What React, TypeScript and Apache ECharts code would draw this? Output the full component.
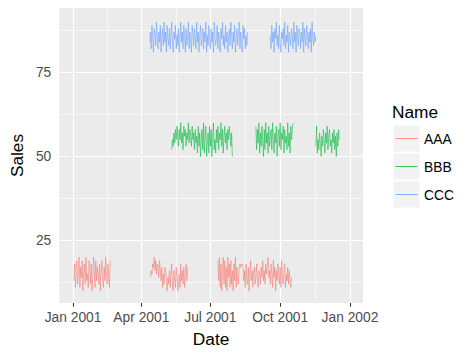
import React, { useEffect, useRef } from "react";
import * as echarts from "echarts";

// x values are days since 1 Jan 2001
const tickDays = [0, 90, 181, 273, 365];
const tickLabels = ["Jan 2001", "Apr 2001", "Jul 2001", "Oct 2001", "Jan 2002"];
const minorDays = [45, 135.5, 227, 319];
const yMajor = [25, 50, 75];
const yMinor = [12.5, 37.5, 62.5, 87.5];

const names = ["AAA", "BBB", "CCC"];
const colors = ["#F8766D", "#00BA38", "#619CFF"];

const aaaStarts = [1, 102, 191];
const aaa1 = [13, 18, 11, 16, 19, 12, 15, 20, 11, 17, 14, 19, 10, 16, 18, 12, 20, 13, 15, 11, 19, 17, 12, 18, 10, 14, 20, 16, 11, 19, 13, 17, 15, 12, 18, 10, 16, 19, 14, 11, 17, 13, 20, 15, 12, 18, 14, 11, 19];
const aaa2 = [14, 16, 15, 18, 17, 20, 16, 19, 15, 18, 17, 14, 19, 16, 13, 17, 11, 15, 12, 17, 16, 13, 10, 14, 12, 16, 11, 15, 18, 12, 10, 16, 13, 11, 17, 14, 10, 12, 15, 11, 18, 13, 16, 12, 17, 11, 15, 18, 13, 17];
const aaa3 = [19, 13, 20, 11, 18, 10, 16, 20, 12, 19, 11, 17, 10, 20, 14, 18, 11, 19, 12, 16, 10, 18, 13, 20, 11, 17, 14, 12,
  17, 18, 17, 18, 18, 17,
  13, 16, 11, 18, 14, 12, 17, 10, 15, 19, 13, 16, 11, 15, 17, 12, 14, 18, 13, 11, 16, 15, 12, 17, 14, 19, 13, 16, 12, 18,
  15, 17, 20, 14, 16, 12, 18, 15, 11, 19, 14, 17, 10, 16, 13, 18, 15, 12, 17, 11, 19, 14, 12, 16, 18, 11, 15, 13, 17, 12, 16, 13, 11, 14];

const bbbStarts = [130, 241, 320];
const bbb1 = [52, 55, 53, 57, 54, 58, 55, 59, 56, 53, 58, 55, 60, 54, 57, 52, 59, 56, 58, 53, 57, 55, 60, 54, 58, 56, 53, 59, 55, 57,
  52, 58, 54, 56, 51, 59, 53, 57, 50, 55, 58, 52, 60, 51, 56, 59, 50, 54, 57, 51, 59, 53, 58, 50, 56, 60, 52, 55, 51, 58,
  54, 59, 52, 57, 55, 60, 53, 58, 51, 56, 59, 54, 57, 52, 58, 55, 59, 56, 53, 57, 50];
const bbb2 = [59, 52, 58, 54, 60, 51, 57, 53, 59, 55, 50, 58, 52, 60, 54, 57, 51, 59, 53, 56, 58, 52, 60, 55, 51, 57, 54, 59, 50, 56, 58, 53, 60, 52, 57, 55, 59, 51, 58, 54, 56, 52, 60, 53, 57, 51, 59, 55, 58, 60];
const bbb3 = [53, 59, 51, 55, 52, 57, 54, 50, 56, 53, 58, 55, 51, 57, 54, 59, 52, 56, 58, 53, 55, 51, 57, 54, 58, 52, 56, 50, 57, 53, 58, 55];

const cccStarts = [101, 260];
const ccc1 = [84, 87, 82, 89, 85, 81, 88, 86, 83, 90, 85, 82, 87, 84, 89, 81, 86, 88, 83, 90,
  84, 87, 81, 89, 85, 83, 88, 82, 86, 90, 84, 81, 87, 85, 89, 82, 86, 83, 88, 81,
  85, 90, 84, 87, 82, 89, 86, 81, 88, 83, 85, 90, 82, 87, 84, 81, 89, 86, 83, 88,
  85, 82, 90, 84, 87, 81, 86, 89, 83, 85, 88, 82, 87, 84, 90, 81, 86, 83, 89, 85,
  82, 88, 84, 87, 81, 90, 86, 83, 85, 89, 82, 87, 84, 81, 88, 85, 90, 83, 86, 82,
  89, 84, 87, 81, 85, 88, 83, 90, 86, 82, 87, 84, 89, 81, 85, 88, 83, 86, 90, 82,
  87, 84, 81, 89, 85, 88, 82, 86, 83, 87];
const ccc2 = [86, 82, 89, 84, 87, 81, 88, 85, 90, 83, 86, 82, 89, 84, 81, 87, 85, 88, 83, 90,
  82, 86, 84, 89, 81, 87, 85, 83, 88, 86, 82, 90, 84, 87, 81, 89, 85, 83, 88, 86,
  82, 87, 84, 90, 81, 88, 85, 83, 89, 86, 82, 87, 84, 88, 81, 90, 85, 83, 87, 84, 86];

const FONT = "'Liberation Sans', Arial, Helvetica, sans-serif";

export default function App() {
  const ref = useRef<HTMLDivElement>(null);
  useEffect(() => {
    if (!ref.current) return;
    const chart = echarts.init(ref.current, undefined, { renderer: "svg" });

    const groups = [
      { name: names[0], color: colors[0], starts: aaaStarts, segs: [aaa1, aaa2, aaa3] },
      { name: names[1], color: colors[1], starts: bbbStarts, segs: [bbb1, bbb2, bbb3] },
      { name: names[2], color: colors[2], starts: cccStarts, segs: [ccc1, ccc2] },
    ];
    const series: any[] = [];
    groups.forEach((g) => {
      g.segs.forEach((seg, si) => {
        series.push({
          type: "line",
          name: g.name,
          z: 10,
          showSymbol: false,
          symbol: "none",
          silent: true,
          lineStyle: { color: g.color, width: 0.55 },
          itemStyle: { color: g.color },
          data: seg.map((v, i) => [g.starts[si] + i, v]),
        });
      });
    });

    const gridLines: any[] = [];
    minorDays.forEach((d) => gridLines.push({ xAxis: d, lineStyle: { color: "#FFFFFF", width: 0.6, type: "solid" } }));
    tickDays.forEach((d) => gridLines.push({ xAxis: d, lineStyle: { color: "#FFFFFF", width: 1.2, type: "solid" } }));
    yMinor.forEach((v) => gridLines.push({ yAxis: v, lineStyle: { color: "#FFFFFF", width: 0.6, type: "solid" } }));
    yMajor.forEach((v) => gridLines.push({ yAxis: v, lineStyle: { color: "#FFFFFF", width: 1.2, type: "solid" } }));

    series.unshift({
      type: "line",
      name: "grid",
      z: 1,
      silent: true,
      data: [],
      markLine: {
        silent: true,
        symbol: ["none", "none"],
        label: { show: false },
        z: 1,
        animation: false,
        data: gridLines,
      },
    });

    const legendItems: any[] = [];
    legendItems.push({
      type: "text",
      x: 392,
      y: 112,
      style: { text: "Name", font: `17.3px ${FONT}`, fill: "#000000", textAlign: "left", textVerticalAlign: "middle" },
    });
    names.forEach((n, i) => {
      const top = 125 + i * 28;
      legendItems.push({ type: "rect", shape: { x: 393, y: top, width: 27, height: 27 }, style: { fill: "#F2F2F2", stroke: "#FFFFFF", lineWidth: 1 } });
      legendItems.push({ type: "line", shape: { x1: 395.5, y1: top + 13.5, x2: 417.5, y2: top + 13.5 }, style: { stroke: colors[i], lineWidth: 0.8 } });
      legendItems.push({
        type: "text",
        x: 424,
        y: top + 14,
        style: { text: n, font: `13.8px ${FONT}`, fill: "#000000", textAlign: "left", textVerticalAlign: "middle" },
      });
    });

    chart.setOption({
      animation: false,
      backgroundColor: "#FFFFFF",
      grid: { left: 55, top: 8, width: 308, height: 295, show: true, backgroundColor: "#EBEBEB", borderWidth: 0 },
      xAxis: {
        type: "value",
        min: -18.2,
        max: 382.2,
        name: "Date",
        nameLocation: "middle",
        nameGap: 27,
        nameTextStyle: { fontFamily: FONT, fontSize: 17.3, color: "#000000", verticalAlign: "top" },
        axisLine: { show: false },
        axisTick: { show: true, customValues: tickDays, length: 3.7, lineStyle: { color: "#333333", width: 1.1 } },
        axisLabel: {
          customValues: tickDays,
          margin: 7,
          fontFamily: FONT,
          fontSize: 13.8,
          color: "#4D4D4D",
          formatter: (v: number) => {
            const idx = tickDays.indexOf(Math.round(v));
            return idx >= 0 ? tickLabels[idx] : "";
          },
        },
        splitLine: { show: false },
      },
      yAxis: {
        type: "value",
        min: 6.37,
        max: 94.17,
        name: "Sales",
        nameLocation: "middle",
        nameGap: 39,
        nameRotate: 90,
        nameTextStyle: { fontFamily: FONT, fontSize: 17.3, color: "#000000", verticalAlign: "middle" },
        axisLine: { show: false },
        axisTick: { show: true, customValues: yMajor, length: 3.7, lineStyle: { color: "#333333", width: 1.1 } },
        axisLabel: {
          customValues: yMajor,
          margin: 8,
          fontFamily: FONT,
          fontSize: 13.8,
          color: "#4D4D4D",
        },
        splitLine: { show: false },
      },
      graphic: legendItems,
      series,
    });
    return () => chart.dispose();
  }, []);
  return <div ref={ref} style={{ position: "fixed", left: 0, top: 0, width: 474, height: 355 }} />;
}
